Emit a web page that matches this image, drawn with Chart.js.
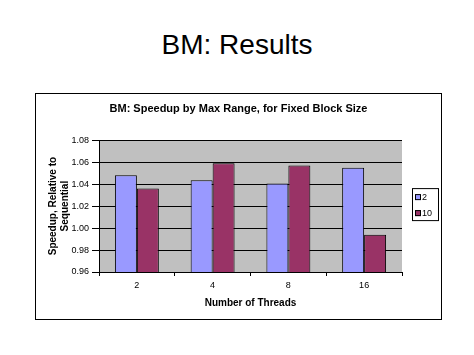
<!DOCTYPE html>
<html>
<head>
<meta charset="utf-8">
<script src="https://cdn.jsdelivr.net/npm/chart.js@4.4.0/dist/chart.umd.min.js"></script>
<style>
  html, body { margin: 0; padding: 0; background: #fff; }
  body { width: 474px; height: 355px; position: relative; overflow: hidden; font-family: "Liberation Sans", Arial, sans-serif; }
  #slideTitle { position: absolute; left: 0; top: 31px; width: 474px; text-align: center; font-size: 28px; line-height: 28px; color: #000; }
  #box { position: absolute; left: 35px; top: 93px; width: 405px; height: 225px; border: 1px solid #000; }
  #box canvas { display: block; }
</style>
</head>
<body>
<div id="slideTitle">BM: Results</div>
<div id="box"><canvas id="c" width="405" height="225"></canvas></div>
<script>
const categories = ["2", "4", "8", "16"];
const seriesNames = ["2", "10"];
const series2 = [1.048, 1.0435, 1.0405, 1.055];
const series10 = [1.036, 1.059, 1.057, 0.994];
const yTicks = [0.96, 0.98, 1.00, 1.02, 1.04, 1.06, 1.08];
const chartTitle = "BM: Speedup by Max Range, for Fixed Block Size";
const xTitle = "Number of Threads";
const yTitle = ["Speedup, Relative to", "Sequential"];

const FONT = "'Liberation Sans', Arial, sans-serif";

const plotBg = {
  id: 'plotBg',
  beforeDraw(chart) {
    const {ctx, chartArea: a} = chart;
    ctx.save();
    ctx.fillStyle = '#C0C0C0';
    ctx.fillRect(a.left, a.top, a.right - a.left, a.bottom - a.top);
    ctx.restore();
  }
};

const boxLegend = {
  id: 'boxLegend',
  afterDraw(chart) {
    const {ctx, chartArea: a} = chart;
    const mid = (a.top + a.bottom) / 2;
    const x0 = a.right + 10, y0 = mid - 18, w = 26, h = 32;
    ctx.save();
    ctx.strokeStyle = '#000';
    ctx.lineWidth = 1;
    ctx.strokeRect(x0 + 0.5, y0 + 0.5, w, h);
    ctx.font = "9px " + FONT;
    ctx.textBaseline = 'middle';
    ctx.textAlign = 'left';
    chart.data.datasets.forEach((ds, i) => {
      const cy = y0 + 9 + i * 16;
      ctx.fillStyle = ds.backgroundColor;
      ctx.fillRect(x0 + 3, cy - 3, 6, 6);
      ctx.strokeStyle = '#000';
      ctx.strokeRect(x0 + 3.5, cy - 2.5, 5, 5);
      ctx.fillStyle = '#000';
      ctx.fillText(ds.label, x0 + 10, cy + 0.5);
    });
    ctx.restore();
  }
};

new Chart(document.getElementById('c'), {
  type: 'bar',
  data: {
    labels: categories,
    datasets: [
      { label: seriesNames[0], data: series2, backgroundColor: '#9999FF', borderColor: '#000', borderWidth: 1 },
      { label: seriesNames[1], data: series10, backgroundColor: '#993366', borderColor: '#000', borderWidth: 1 }
    ]
  },
  options: {
    responsive: false,
    animation: false,
    devicePixelRatio: 1,
    layout: { padding: 0 },
    datasets: { bar: { categoryPercentage: 0.58, barPercentage: 1.0 } },
    plugins: {
      legend: { display: false },
      tooltip: { enabled: false },
      title: {
        display: true,
        text: chartTitle,
        color: '#000',
        font: { family: FONT, size: 11, weight: 'bold', lineHeight: 1.2 },
        padding: { top: 8, bottom: 25 }
      }
    },
    scales: {
      x: {
        grid: { display: true, drawOnChartArea: false, drawTicks: true, tickLength: 4, color: '#000', offset: true },
        border: { display: true, color: '#000' },
        ticks: { color: '#000', font: { family: FONT, size: 9 }, padding: 4 },
        title: { display: true, text: xTitle, color: '#000', font: { family: FONT, size: 10, weight: 'bold', lineHeight: 1.2 }, padding: { top: 0, bottom: 10 } },
        afterFit(s) { s.height = 47; }
      },
      y: {
        min: yTicks[0],
        max: yTicks[yTicks.length - 1],
        afterBuildTicks(s) { s.ticks = yTicks.map(v => ({ value: v })); },
        grid: { color: '#000', tickLength: 7, drawTicks: true },
        border: { display: true, color: '#000' },
        ticks: { color: '#000', font: { family: FONT, size: 9 }, padding: 3, callback: v => Number(v).toFixed(2) },
        title: { display: true, text: yTitle, color: '#000', font: { family: FONT, size: 10, weight: 'bold', lineHeight: 1.2 }, padding: { top: 11, bottom: 0 } },
        afterFit(s) { s.width = 63; }
      },
      legendSpace: {
        type: 'linear',
        position: 'right',
        display: true,
        grid: { display: false, drawTicks: false },
        border: { display: false },
        ticks: { display: false },
        afterFit(s) { s.width = 39; }
      }
    }
  },
  plugins: [plotBg, boxLegend]
});
</script>
</body>
</html>
